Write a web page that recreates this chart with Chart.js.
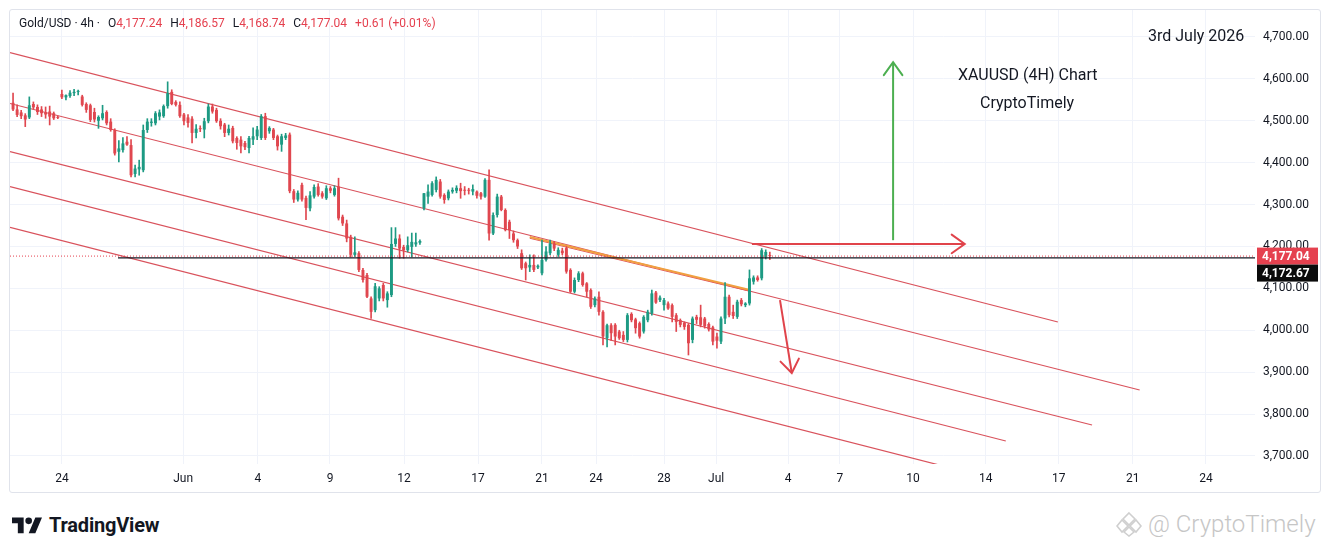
<!DOCTYPE html>
<html>
<head>
<meta charset="utf-8">
<script src="https://cdn.jsdelivr.net/npm/chart.js@4.4.1/dist/chart.umd.min.js"></script>
<style>
  html, body { margin: 0; padding: 0; background: #fff; }
  body { width: 1330px; height: 554px; position: relative; overflow: hidden; font-family: Roboto, "Noto Sans", sans-serif; color: #131722; }
  #panel { position: absolute; left: 9px; top: 9px; width: 1312px; height: 484px; border: 1px solid #e0e3eb; border-radius: 3px; box-sizing: border-box; }
  #wrap { position: absolute; left: 10px; top: 10px; width: 1310px; height: 482px; }
  #hdr { position: absolute; left: 19px; top: 15px; font-size: 12px; white-space: nowrap; line-height: 16px; }
  #hdr span { margin-right: 8px; }
  #hdr .v { color: #e5414f; font-style: normal; }
  .note { position: absolute; font-size: 16px; white-space: nowrap; line-height: 20px; }
  #brand { position: absolute; left: 12px; top: 512px; height: 26px; display: flex; align-items: center; }
  #brand b { font-size: 20px; font-weight: 700; margin-left: 7px; letter-spacing: -0.2px; }
  #wm { position: absolute; left: 1116px; top: 510px; display: flex; align-items: center; color: #c6c6c6; font-size: 24px; font-weight: 300; }
</style>
</head>
<body>
<div id="panel"></div>
<div id="wrap"><canvas id="c" width="1310" height="482"></canvas></div>
<div id="hdr"><span>Gold/USD · 4h ·</span><span>O<i class="v">4,177.24</i></span><span>H<i class="v">4,186.57</i></span><span>L<i class="v">4,168.74</i></span><span>C<i class="v">4,177.04</i></span><span class="v">+0.61 (+0.01%)</span></div>
<div class="note" style="left:958px; top:65px;">XAUUSD (4H) Chart</div>
<div class="note" style="left:980px; top:93px;">CryptoTimely</div>
<div class="note" style="left:1148px; top:26px;">3rd July 2026</div>
<div id="brand">
  <svg width="30" height="20" viewBox="0 0 36 24"><path d="M14 22H7V10H0V3h14v19zM28 22h-8l8-19h8L28 22z" fill="#131722"/><circle cx="20" cy="7" r="4" fill="#131722"/></svg>
  <b>TradingView</b>
</div>
<div id="wm">
  <svg width="26" height="26" viewBox="0 0 26 26" style="margin-right:6px"><g fill="none" stroke="#cfcfcf" stroke-width="1.6"><path d="M13 2l6 6-6 6-6-6z"/><path d="M6 9l6 6-6 6-5-6z"/><path d="M20 9l5 6-5 6-6-6z"/><path d="M13 16l5 5-5 4-5-4z"/></g></svg>
  <span>@ CryptoTimely</span>
</div>
<script>
// 4h candles, oldest first
const opens = [
  4543, 4527, 4520, 4513, 4508, 4540, 4533, 4527, 4520, 4522, 4518, 4509,
  4564, 4556, 4559, 4566, 4569, 4558, 4540, 4537, 4521, 4500, 4506, 4521,
  4498, 4478, 4426, 4430, 4450, 4442, 4373, 4384, 4382, 4478, 4495, 4494,
  4510, 4511, 4535, 4569, 4545, 4538, 4515, 4508, 4505, 4471, 4482, 4479,
  4499, 4534, 4526, 4500, 4491, 4471, 4483, 4459, 4455, 4447, 4435, 4455,
  4463, 4459, 4511, 4475, 4479, 4463, 4443, 4459, 4467, 4332, 4312, 4347, 4316,
  4291, 4319, 4343, 4327, 4315, 4339, 4323, 4343, 4271, 4255, 4223, 4180, 4184,
  4144, 4132, 4076, 4048, 4076, 4108, 4072, 4084, 4206, 4219, 4199, 4191, 4199, 4205, 4209,
  4291, 4319, 4323, 4335, 4355, 4323, 4315, 4331, 4333,
  4339, 4335, 4335, 4331, 4331, 4327, 4319, 4359, 4231, 4275, 4319, 4287,
  4259, 4231, 4215, 4184, 4160, 4150, 4156, 4150, 4136, 4168, 4184, 4207,
  4180, 4190, 4196, 4144, 4092, 4120, 4136, 4112, 4096, 4060, 4080, 4044, 3981,
  4012, 4013, 3997, 3989, 3977, 4039, 4026, 4017, 3997, 4024, 4040, 4090,
  4072, 4060, 4064, 4060, 4036, 4024, 4018, 4013, 3977, 4032, 4031, 4028,
  4015, 4007, 3985, 3973, 4028, 4080, 4044, 4032, 4072, 4060, 4064, 4116, 4126, 4124, 4175, 4177.24
];
const highs = [
  4566, 4538, 4525, 4517, 4557, 4545, 4538, 4534, 4533, 4535, 4521, 4511,
  4573, 4562, 4572, 4575, 4573, 4561, 4543, 4540, 4530, 4512, 4537, 4524,
  4505, 4481, 4453, 4460, 4462, 4455, 4394, 4406, 4490, 4505, 4505, 4522,
  4526, 4538, 4593, 4574, 4548, 4545, 4518, 4515, 4510, 4491, 4488, 4506,
  4540, 4540, 4530, 4505, 4494, 4490, 4487, 4462, 4462, 4451, 4463, 4483,
  4487, 4515, 4518, 4486, 4482, 4466, 4468, 4470, 4471, 4336, 4333, 4351, 4320,
  4331, 4347, 4350, 4331, 4345, 4343, 4345, 4363, 4275, 4263, 4227, 4223, 4188,
  4148, 4136, 4080, 4112, 4104, 4112, 4092, 4245, 4245, 4228, 4203, 4223, 4232, 4232, 4216,
  4327, 4347, 4355, 4366, 4360, 4326, 4335, 4340, 4345,
  4351, 4343, 4339, 4347, 4333, 4329, 4362, 4383, 4280, 4325, 4322, 4290,
  4263, 4237, 4218, 4192, 4163, 4180, 4180, 4156, 4215, 4200, 4215, 4212,
  4197, 4196, 4200, 4147, 4125, 4140, 4139, 4114, 4099, 4080, 4092, 4047, 4015,
  4016, 4016, 4000, 3997, 4040, 4042, 4029, 4020, 4035, 4048, 4096, 4093,
  4082, 4076, 4068, 4063, 4040, 4027, 4020, 4016, 4032, 4036, 4060, 4031,
  4018, 4010, 3993, 4032, 4114, 4084, 4060, 4072, 4076, 4066, 4144, 4130, 4130, 4195, 4192, 4186.57
];
const lows = [
  4524, 4510, 4505, 4486, 4505, 4528, 4515, 4510, 4506, 4490, 4503, 4505,
  4553, 4550, 4556, 4560, 4562, 4535, 4520, 4498, 4497, 4482, 4502, 4490,
  4475, 4418, 4402, 4425, 4441, 4366, 4366, 4370, 4378, 4472, 4487, 4490,
  4502, 4508, 4530, 4538, 4535, 4508, 4490, 4485, 4447, 4459, 4474, 4459,
  4495, 4518, 4496, 4480, 4462, 4466, 4447, 4432, 4423, 4431, 4423, 4443,
  4455, 4455, 4455, 4470, 4455, 4430, 4427, 4455, 4328, 4305, 4308, 4308, 4264,
  4285, 4315, 4320, 4315, 4312, 4328, 4320, 4263, 4250, 4211, 4175, 4176, 4140,
  4115, 4078, 4028, 4044, 4070, 4070, 4055, 4080, 4200, 4172, 4172, 4187, 4175, 4200, 4205,
  4287, 4303, 4320, 4330, 4315, 4303, 4311, 4327, 4328,
  4315, 4323, 4325, 4323, 4315, 4313, 4317, 4215, 4228, 4270, 4285, 4237,
  4219, 4210, 4195, 4145, 4120, 4140, 4140, 4147, 4132, 4165, 4180, 4190,
  4176, 4180, 4136, 4090, 4089, 4116, 4105, 4080, 4052, 4056, 4036, 3965, 3960,
  3976, 3965, 3978, 3973, 3972, 4020, 3993, 3981, 3993, 4020, 4036, 4064,
  4068, 4048, 4050, 4020, 3997, 4008, 4002, 3941, 3970, 4016, 4008, 4005,
  3998, 3965, 3957, 3968, 4016, 4032, 4028, 4028, 4058, 4056, 4060, 4110, 4117, 4120, 4170, 4168.74
];
const closes = [
  4527, 4514, 4511, 4503, 4537, 4532, 4521, 4518, 4515, 4510, 4506, 4507,
  4556, 4561, 4567, 4569, 4570, 4538, 4526, 4502, 4503, 4509, 4518, 4494,
  4478, 4422, 4434, 4446, 4443, 4370, 4386, 4390, 4478, 4498, 4498, 4518,
  4520, 4535, 4566, 4540, 4538, 4511, 4499, 4495, 4471, 4481, 4480, 4499,
  4534, 4522, 4499, 4487, 4471, 4481, 4451, 4447, 4439, 4437, 4459, 4463,
  4479, 4511, 4459, 4483, 4459, 4439, 4463, 4465, 4332, 4312, 4328, 4312, 4292,
  4322, 4342, 4323, 4319, 4339, 4333, 4339, 4267, 4255, 4219, 4180, 4186, 4144,
  4120, 4080, 4044, 4105, 4100, 4076, 4088, 4206, 4219, 4195, 4191, 4203, 4211, 4210, 4213,
  4327, 4331, 4351, 4359, 4319, 4311, 4331, 4335, 4340,
  4332, 4333, 4333, 4337, 4321, 4319, 4359, 4231, 4275, 4319, 4287, 4239,
  4239, 4215, 4200, 4148, 4148, 4156, 4144, 4154, 4168, 4188, 4207, 4195,
  4192, 4184, 4140, 4092, 4120, 4136, 4108, 4092, 4056, 4076, 4044, 3985, 4012,
  3993, 3985, 3981, 3977, 4036, 4024, 4005, 3985, 4032, 4044, 4088, 4066,
  4078, 4072, 4052, 4032, 4020, 4013, 4008, 3969, 4028, 4025, 4013, 4010,
  4002, 3973, 3975, 4028, 4080, 4036, 4034, 4068, 4062, 4064, 4124, 4126, 4120, 4191, 4187, 4177.04
];

// time axis labels, placed at bar positions
const xTickPos = [12.0, 41.8, 60.2, 77.9, 96.1, 114.3, 130.0, 143.3, 160.0, 172.8, 190.5, 203.2, 221.2, 239.1, 257.0, 275.2, 293.2];
const xTickLabels = ['24', 'Jun', '4', '9', '12', '17', '21', '24', '28', 'Jul', '4', '7', '10', '14', '17', '21', '24'];
const yTickValues = [3700, 3800, 3900, 4000, 4100, 4200, 4300, 4400, 4500, 4600, 4700];

// drawn channel (parallel lines), start at left edge
const channelStartX = -0.75;
const channelStartPrices = [4662.5, 4541.3, 4426.2, 4342.7, 4245.8];
const channelEndX = [256.8, 276.9, 265.2, 244.0, 227.8];
const channelEndPrices = [4019.7, 3857.4, 3773.8, 3735.7, 3678];

// orange trendline
const trendX = [127.0, 181.1];
const trendPrices = [4222.6, 4096.1];

// arrows: [x, price] from -> to
const arrowFrom = [[181.6, 4206], [216.3, 4215], [188.5, 4072]];
const arrowTo = [[233.9, 4206], [216.3, 4640], [191.4, 3898]];
const arrowColors = ['#e0434b', '#4caf50', '#e0434b'];

const lastPrice = 4177.04;
const linePrice = 4172.67;
const lineStartX = 25.8;

const X_MIN = -0.75, X_MAX = 305.25;
const UP = '#1d9a83', DOWN = '#e0474f';

const idx = closes.map((_, i) => i);
const candleColor = idx.map(i => closes[i] >= opens[i] ? UP : DOWN);
const fmt = v => v.toLocaleString('en-US', { minimumFractionDigits: 2, maximumFractionDigits: 2 });

function seg(pts, color, width, order, dash) {
  return {
    type: 'line',
    data: pts.map(p => ({ x: p[0], y: p[1] })),
    borderColor: color,
    borderWidth: width,
    borderDash: dash || [],
    pointRadius: 0,
    tension: 0,
    fill: false,
    order: order
  };
}

const datasets = [];
channelStartPrices.forEach((p, i) => {
  datasets.push(seg([[channelStartX, p], [channelEndX[i], channelEndPrices[i]]], '#d9525c', 1.2, 6));
});
datasets.push(seg([[trendX[0], trendPrices[0] - 3], [trendX[1], trendPrices[1] - 3]], '#e0525a', 1, 5));
datasets.push(seg([[trendX[0], trendPrices[0]], [trendX[1], trendPrices[1]]], '#f0a040', 2, 4));
datasets.push(seg([[X_MIN, lastPrice], [X_MAX, lastPrice]], '#e5414f', 1, 1, [1, 2]));
datasets.push(seg([[lineStartX, linePrice], [X_MAX, linePrice]], '#131722', 1.4, 1));
arrowFrom.forEach((a, i) => {
  datasets.push(seg([a, arrowTo[i]], arrowColors[i], 2, 0));
});

datasets.push({
  type: 'bar',
  data: idx.map(i => ({ x: i, y: [lows[i], highs[i]] })),
  backgroundColor: candleColor,
  barThickness: 1,
  grouped: false,
  order: 3
});
datasets.push({
  type: 'bar',
  data: idx.map(i => ({ x: i, y: [opens[i], closes[i]] })),
  backgroundColor: candleColor,
  barPercentage: 0.72,
  categoryPercentage: 1,
  minBarLength: 1,
  grouped: false,
  order: 2
});

// arrowheads and the price tags on the axis
const overlay = {
  id: 'overlay',
  afterDatasetsDraw(chart) {
    const { ctx, scales: { x, y } } = chart;
    arrowFrom.forEach((a, i) => {
      const x1 = x.getPixelForValue(a[0]), y1 = y.getPixelForValue(a[1]);
      const x2 = x.getPixelForValue(arrowTo[i][0]), y2 = y.getPixelForValue(arrowTo[i][1]);
      const ang = Math.atan2(y2 - y1, x2 - x1);
      const len = 16, spread = 0.62;
      ctx.save();
      ctx.strokeStyle = arrowColors[i];
      ctx.lineWidth = 2;
      ctx.lineCap = 'round';
      ctx.beginPath();
      ctx.moveTo(x2 - len * Math.cos(ang - spread), y2 - len * Math.sin(ang - spread));
      ctx.lineTo(x2, y2);
      ctx.lineTo(x2 - len * Math.cos(ang + spread), y2 - len * Math.sin(ang + spread));
      ctx.stroke();
      ctx.restore();
    });
  },
  afterDraw(chart) {
    const { ctx, chartArea, scales: { y } } = chart;
    const left = chartArea.right + 2, w = 61, h = 17;
    const redY = y.getPixelForValue(lastPrice);
    const blackY = Math.max(y.getPixelForValue(linePrice), redY + h);
    ctx.save();
    ctx.font = 'bold 12px Roboto, sans-serif';
    ctx.textBaseline = 'middle';
    ctx.textAlign = 'left';
    ctx.fillStyle = '#e5414f';
    ctx.fillRect(left, redY - h / 2, w, h);
    ctx.fillStyle = '#fff';
    ctx.fillText(fmt(lastPrice), left + 5, redY + 1);
    ctx.fillStyle = '#0b0b0b';
    ctx.fillRect(left, blackY - h / 2, w, h);
    ctx.fillStyle = '#fff';
    ctx.fillText(fmt(linePrice), left + 5, blackY + 1);
    ctx.restore();
  }
};

new Chart(document.getElementById('c'), {
  type: 'bar',
  data: { datasets: datasets },
  options: {
    responsive: false,
    animation: false,
    layout: { padding: 0 },
    plugins: { legend: { display: false }, tooltip: { enabled: false } },
    scales: {
      x: {
        type: 'linear',
        min: X_MIN,
        max: X_MAX,
        offset: false,
        afterFit: s => { s.height = 28; s.paddingLeft = 0; s.paddingRight = 0; },
        afterBuildTicks: s => { s.ticks = xTickPos.map(v => ({ value: v })); },
        grid: { color: '#f0f3fa', drawTicks: false, offset: false },
        border: { display: false },
        ticks: {
          autoSkip: false,
          maxRotation: 0,
          padding: 8,
          color: '#131722',
          font: { family: 'Roboto', size: 12 },
          callback: (v, i) => xTickLabels[i]
        }
      },
      y: {
        position: 'right',
        min: 3680.8,
        max: 4764.4,
        afterFit: s => { s.width = 65; s.paddingTop = 0; s.paddingBottom = 0; },
        afterBuildTicks: s => { s.ticks = yTickValues.map(v => ({ value: v })); },
        grid: { color: '#f0f3fa', drawTicks: false },
        border: { display: false },
        ticks: {
          padding: 8,
          color: '#131722',
          font: { family: 'Roboto', size: 12 },
          callback: v => fmt(v)
        }
      }
    }
  },
  plugins: [overlay]
});
</script>
</body>
</html>
